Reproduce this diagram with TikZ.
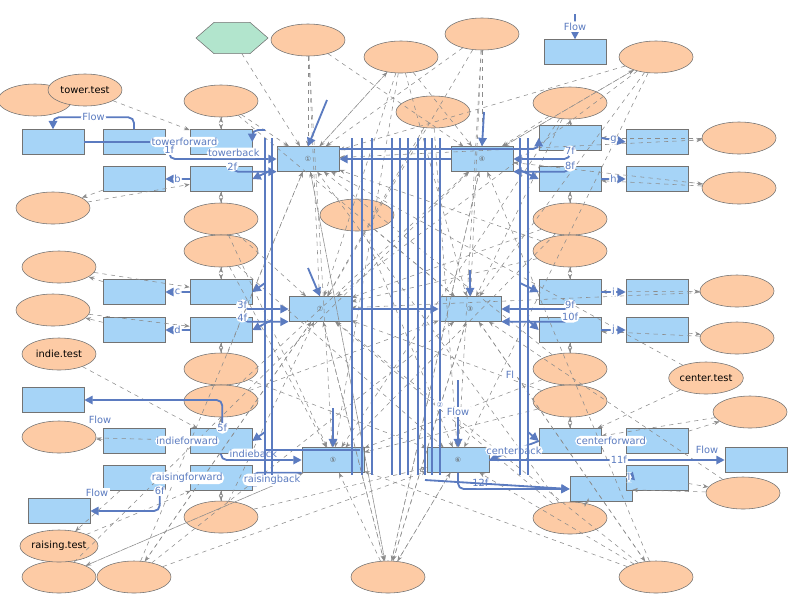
\documentclass[tikz,border=0pt]{standalone}
\usepackage{fontspec}
\setmainfont{DejaVu Sans}
\usetikzlibrary{shapes.geometric,arrows.meta}
\definecolor{bx}{HTML}{A6D4F7}
\definecolor{el}{HTML}{FDCBA5}
\definecolor{hx}{HTML}{B2E5CD}
\definecolor{fl}{HTML}{5B7BC0}
\begin{document}
\begin{tikzpicture}[x=0.025cm,y=-0.025cm,
 box/.style={draw=black!55,fill=bx,minimum width=1.55cm,minimum height=0.62cm,inner sep=0pt,font=\tiny},
 ell/.style={ellipse,draw=black!55,fill=el,minimum width=1.85cm,minimum height=0.8cm,inner sep=0pt,font=\scriptsize},
 dep/.style={draw=black!45,dashed,thin,-{Stealth[length=4pt]}},
 flow/.style={draw=fl,line width=1.3pt,-{Triangle[length=6pt,width=6pt]},rounded corners=4pt},
 lab/.style={fill=white,text=fl,font=\scriptsize,inner sep=1pt}]
\useasboundingbox (0,0) rectangle (800,600);
% boxes
\foreach \n/\x/\y in {r1/53/142,r2/134/142,r3/221/142,r4/308/159,r5/134/179,r6/221/179,r7/482/159,r8/570/138,r9/657/142,r10/570/179,r11/657/179,r12/134/292,r13/221/292,r14/320/309,r15/470/309,r16/570/292,r17/657/292,r18/134/330,r19/221/330,r20/570/330,r21/657/330,r22/53/400,r23/134/441,r24/221/441,r25/333/460,r26/458/460,r27/570/441,r28/657/441,r29/134/478,r30/221/478,r31/601/489,r32/657/478,r33/756/460,r34/59/511,r35/575/52}
  \node[box] (\n) at (\x,\y) {};
% ellipses
\node[ell] (e6) at (35,100) {};
\node[ell] (e5) at (85,90) {};
\node[font=\scriptsize] at (e5) {tower.test};
\foreach \n/\x/\y in {e1/308/40,e2/482/34,e3/401/57,e4/656/57,e7/221/101,e8/433/112,e9/570/103,e10/739/138,e11/53/208,e12/739/188,e13/221/219,e14/357/215,e15/570/219,e16/221/251,e17/570/251,e18/59/267,e19/53/310,e20/737/291,e22/221/369,e23/570/369,e24/737/338,e26/570/401,e27/221/401,e28/750/412,e29/59/437,e30/743/493,e31/221/517,e32/570/518,e34/59/577,e35/134/577,e36/388/577,e37/656/577}
  \node[ell] (\n) at (\x,\y) {};
\node[ell] (e21) at (59,354) {indie.test};
\node[ell] (e25) at (706,378) {center.test};
\node[ell] (e33) at (59,546) {raising.test};
\node[regular polygon,regular polygon sides=6,draw=black!55,fill=hx,minimum width=1.8cm,inner sep=0pt,yscale=0.5] (hx) at (232,38) {};
% box inner marks
\foreach \n/\t in {r4/①,r7/④,r14/⑦,r15/③,r25/⑤,r26/⑥}
  \node[font=\tiny,text=black!60] at (\n) {\t};
% gray dependency arrows
\foreach \a/\b in {e1/r4,e1/r14,e1/r25,e2/r7,e2/r15,e2/r26,e3/r4,e3/r14,e3/r15,e4/r7,e4/r15,e4/r26,e5/r3,e7/r4,e7/r3,e8/r14,e8/r26,e9/r7,e9/r15,e10/r8,e10/r4,e11/r6,e12/r10,e12/r7,e13/r6,e13/r25,e14/r15,e14/r26,e15/r10,e15/r14,e16/r13,e16/r25,e17/r16,e17/r4,e18/r13,e19/r19,e20/r16,e20/r14,e21/r24,e22/r19,e22/r26,e23/r20,e23/r25,e24/r20,e25/r27,e25/r4,e26/r27,e26/r14,e27/r24,e27/r15,e28/r27,e29/r24,e30/r31,e30/r15,e31/r30,e31/r26,e32/r31,e32/r4,e33/r30,e34/r25,e35/r26,e35/r4,e36/r25,e36/r26,e36/r14,e36/r15,e36/r4,e36/r7,e37/r26,e37/r15,e37/r7,e37/r25,e35/r14,e34/r7,hx/r4,e2/r14,e3/r7,e4/r4,e1/r7,e2/r4,e3/r25,e4/r14,e9/r25,e7/r15,e13/r14,e15/r25,e16/r26,e17/r14,e22/r4,e23/r4,e26/r25,e27/r7,e31/r14,e32/r14,e35/r15,e37/r14}
  \path[dep] (\a) -- (\b);
\foreach \a/\b in {r3/e7,r6/e13,r5/e11,r8/e9,r10/e15,r9/e10,r11/e12,r12/e18,r18/e19,r13/e16,r19/e22,r16/e17,r20/e23,r17/e20,r21/e24,r24/e27,r27/e26,r28/e28,r30/e31,r31/e32,r32/e30,r23/e29,r29/e33,r4/e36,r7/e36,r14/e35,r15/e37,r25/e34,r26/e36,r4/e3,r7/e4,r14/e36,r15/e36}
  \path[dep] (\a) -- (\b);
% blue flows
\draw[flow] (r2.north) -- ++(0,-12) -| node[lab,pos=0.25]{Flow} (r1.north);
\draw[flow,-] (r1.east) -- node[lab,pos=0.95]{towerforward} (r3.west);
\draw[flow] (r2.south east) ++(4,0) node[lab,above=-1pt]{1f} |- node[lab,pos=0.8,above]{towerback} (r4.west);
\draw[flow] (r6.west) -- node[lab]{b} (r5.east);
\draw[flow] (r6.north east) ++(-20,0) node[lab]{2f} |- (r4.south west);
\draw[flow] (r13.west) -- node[lab]{c} (r12.east);
\draw[flow] (r19.west) -- node[lab]{d} (r18.east);
\draw[flow] (r13.south east) ++(-10,0) node[lab]{3f} |- (r14.west);
\draw[flow] (r19.north east) ++(-10,0) node[lab]{4f} |- (r14.south west);
\draw[flow] (r8.east) -- node[lab]{g} (r9.west);
\draw[flow] (r10.east) -- node[lab]{h} (r11.west);
\draw[flow] (r16.east) -- node[lab]{i} (r17.west);
\draw[flow] (r20.east) -- node[lab]{j} (r21.west);
\draw[flow] (r8.south) node[lab]{7f} |- (r7.east);
\draw[flow] (r10.north) node[lab]{8f} |- (r7.south east);
\draw[flow] (r16.south) node[lab]{9f} |- (r15.east);
\draw[flow] (r20.north) node[lab]{10f} |- (r15.south east);
\draw[flow] (r24.north east) ++(-30,0) node[lab]{5f} |- (r22.east);
\node[lab] at (100,420) {Flow};
\draw[flow,-] (r23.east) -- node[lab,pos=0.9]{indieforward} (r24.west);
\draw[flow] (r24.south) |- node[lab,pos=0.7,above]{indieback} (r25.west);
\draw[flow] (r25.south west) -| node[lab,pos=0.3,below]{raisingback} (r30.east);
\draw[flow,-] (r29.east) -- node[lab,pos=0.9]{raisingforward} (r30.west);
\draw[flow] (r30.south west) ++(-30,0) node[lab]{6f} |- (r34.east);
\node[lab] at (97,493) {Flow};
\draw[flow,-] (r27.east) -- node[lab,pos=0.4]{centerforward} (r28.west);
\draw[flow] (r27.west) -- node[lab]{centerback} (r26.east);
\draw[flow] (r26.east) -- node[lab,pos=0.55]{11f} (r33.west);
\node[lab] at (707,450) {Flow};
\draw[flow] (r31.north east) -- node[lab]{l} (r32.west);
\draw[flow] (r26.south) |- node[lab,pos=0.6,above]{12f} (r31.west);
\draw[flow] (575,14) -- node[lab]{Flow} (r35.north);
% big blue buses
\coordinate (t1) at (327,100);\draw[flow] (t1) -- (r4.north);
\coordinate (t2) at (484,112);\draw[flow] (t2) -- (r7.north);
\coordinate (t3) at (308,268);\draw[flow] (t3) -- (r14.north);
\coordinate (t4) at (470,270);\draw[flow] (t4) -- (r15.north);
\coordinate (t5) at (333,408);\draw[flow] (t5) -- (r25.north);
\coordinate (t6) at (458,380);\draw[flow] (t6) -- (r26.north);
\foreach \xx in {265,272,352,362,372,392,400,408,418,425,432,440,520,528} {
  \draw[fl,line width=1.3pt] (\xx,138) -- (\xx,475);
}
\draw[flow] (r7.west) -- (r4.east);
\draw[flow] (265,130) -| (r3.east) ;
\draw[flow] (r4.east) ++(0,-10) -| (r8.west);
\draw[flow] (272,170) -- (r6.east);
\draw[flow] (r14.east) -- (r15.west);
\draw[flow] (265,283) -- (r13.east);
\draw[flow] (272,320) -- (r19.east);
\draw[flow] (520,283) -- (r16.west);
\draw[flow] (528,320) -- (r20.west);
\draw[flow] (520,170) -- (r10.west);
\draw[flow] (265,432) -- (r24.east);
\draw[flow] (528,432) -- (r27.west);
\draw[flow] (425,480) -- (r31.west);
\draw[fl,line width=1.3pt] (265,450) -- (360,450);
\node[lab,font=\tiny] at (440,405) {②};
\node[lab] at (458,412) {Flow};
\node[lab] at (510,375) {Fl};
\end{tikzpicture}
\end{document}
